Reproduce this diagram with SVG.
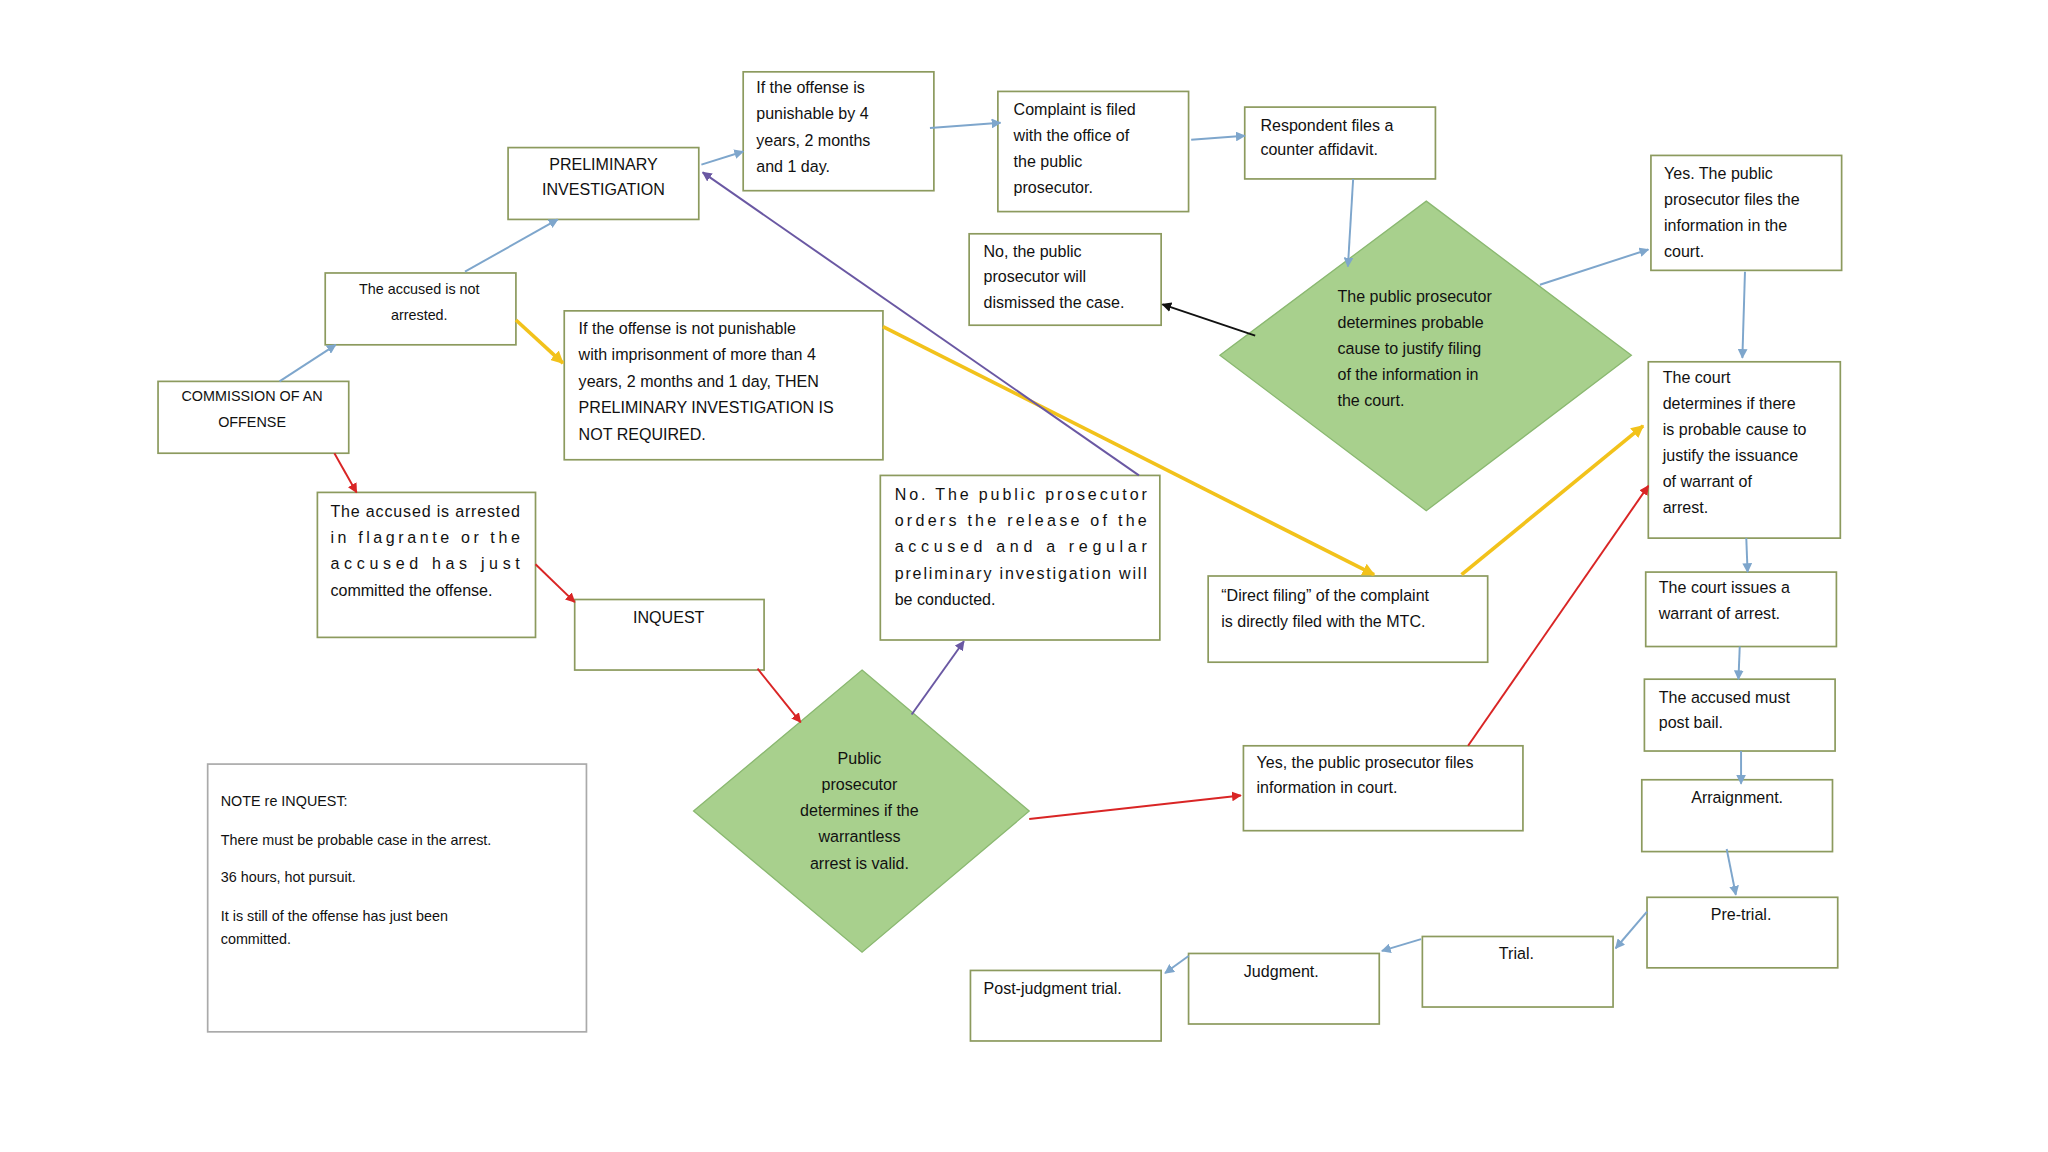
<svg xmlns="http://www.w3.org/2000/svg" width="2048" height="1152" viewBox="0 0 2048 1152">
<style>
.b{fill:#fff;stroke:#8c9a5e;stroke-width:1.3}
.d{fill:#a8d08d;stroke:#8ab870;stroke-width:1}
text{font-family:"Liberation Sans",Arial,sans-serif;font-size:12.3px;fill:#111}
.s{font-size:11px}
.c{text-anchor:middle}
.bl{stroke:#7ea6cc;stroke-width:1.5;fill:none;marker-end:url(#mb)}
.y{stroke:#f2c21b;stroke-width:2.8;fill:none;marker-end:url(#my)}
.r{stroke:#d92525;stroke-width:1.5;fill:none;marker-end:url(#mr)}
.p{stroke:#6a58a3;stroke-width:1.5;fill:none;marker-end:url(#mp)}
.k{stroke:#111;stroke-width:1.5;fill:none;marker-end:url(#mk)}
</style>
<defs>
<marker id="mb" viewBox="0 0 10 10" refX="9" refY="5" markerWidth="5" markerHeight="5" orient="auto"><path d="M0,0L10,5L0,10z" fill="#7ea6cc"/></marker>
<marker id="my" viewBox="0 0 10 10" refX="9" refY="5" markerWidth="3.5" markerHeight="3.5" orient="auto"><path d="M0,0L10,5L0,10z" fill="#f2c21b"/></marker>
<marker id="mr" viewBox="0 0 10 10" refX="9" refY="5" markerWidth="5" markerHeight="5" orient="auto"><path d="M0,0L10,5L0,10z" fill="#d92525"/></marker>
<marker id="mp" viewBox="0 0 10 10" refX="9" refY="5" markerWidth="5" markerHeight="5" orient="auto"><path d="M0,0L10,5L0,10z" fill="#6a58a3"/></marker>
<marker id="mk" viewBox="0 0 10 10" refX="9" refY="5" markerWidth="5" markerHeight="5" orient="auto"><path d="M0,0L10,5L0,10z" fill="#111"/></marker>
</defs>
<rect width="2048" height="1152" fill="#fff"/>
<g transform="scale(1.30612)">
<g id="commission"><rect class="b" x="121" y="292" width="146" height="55"/><text class="c s" x="193" y="307">COMMISSION OF AN</text><text class="c s" x="193" y="327">OFFENSE</text></g>
<g id="notarrested"><rect class="b" x="249" y="209" width="146" height="55"/><text class="c s" x="321" y="225">The accused is not</text><text class="c s" x="321" y="245">arrested.</text></g>
<g id="prelim"><rect class="b" x="389" y="113" width="146" height="55"/><text class="c" x="462" y="130">PRELIMINARY</text><text class="c" x="462" y="149">INVESTIGATION</text></g>
<g id="punishable"><rect class="b" x="569" y="55" width="146" height="91"/><text x="579" y="71">If the offense is</text><text x="579" y="91">punishable by 4</text><text x="579" y="112">years, 2 months</text><text x="579" y="132">and 1 day.</text></g>
<g id="complaint"><rect class="b" x="764" y="70" width="146" height="92"/><text x="776" y="88">Complaint is filed</text><text x="776" y="108">with the office of</text><text x="776" y="128">the public</text><text x="776" y="148">prosecutor.</text></g>
<g id="respondent"><rect class="b" x="953" y="82" width="146" height="55"/><text x="965" y="100">Respondent files a</text><text x="965" y="119">counter affidavit.</text></g>
<g id="yesfiles"><rect class="b" x="1264" y="119" width="146" height="88"/><text x="1274" y="137">Yes. The public</text><text x="1274" y="157">prosecutor files the</text><text x="1274" y="177">information in the</text><text x="1274" y="197">court.</text></g>
<g id="dismiss"><rect class="b" x="742" y="179" width="147" height="70"/><text x="753" y="197">No, the public</text><text x="753" y="216">prosecutor will</text><text x="753" y="236">dismissed the case.</text></g>
<g id="diamond1"><polygon class="d" points="1092,154 1249,272 1092,391 934,272"/><text x="1024" y="231">The public prosecutor</text><text x="1024" y="251">determines probable</text><text x="1024" y="271">cause to justify filing</text><text x="1024" y="291">of the information in</text><text x="1024" y="311">the court.</text></g>
<g id="notpunishable"><rect class="b" x="432" y="238" width="244" height="114"/><text x="443" y="256">If the offense is not punishable</text><text x="443" y="276">with imprisonment of more than 4</text><text x="443" y="296">years, 2 months and 1 day, THEN</text><text x="443" y="316">PRELIMINARY INVESTIGATION IS</text><text x="443" y="337">NOT REQUIRED.</text></g>
<g id="courtdetermines"><rect class="b" x="1262" y="277" width="147" height="135"/><text x="1273" y="293">The court</text><text x="1273" y="313">determines if there</text><text x="1273" y="333">is probable cause to</text><text x="1273" y="353">justify the issuance</text><text x="1273" y="373">of warrant of</text><text x="1273" y="393">arrest.</text></g>
<g id="arrested"><rect class="b" x="243" y="377" width="167" height="111"/><text x="253" y="396" textLength="145" lengthAdjust="spacing">The accused is arrested</text><text x="253" y="416" textLength="145" lengthAdjust="spacing">in flagrante or the</text><text x="253" y="436" textLength="145" lengthAdjust="spacing">accused has just</text><text x="253" y="456">committed the offense.</text></g>
<g id="inquest"><rect class="b" x="440" y="459" width="145" height="54"/><text class="c" x="512" y="477">INQUEST</text></g>
<g id="release"><rect class="b" x="674" y="364" width="214" height="126"/><text x="685" y="383" textLength="193" lengthAdjust="spacing">No. The public prosecutor</text><text x="685" y="403" textLength="193" lengthAdjust="spacing">orders the release of the</text><text x="685" y="423" textLength="193" lengthAdjust="spacing">accused and a regular</text><text x="685" y="443" textLength="193" lengthAdjust="spacing">preliminary investigation will</text><text x="685" y="463">be conducted.</text></g>
<g id="directfiling"><rect class="b" x="925" y="441" width="214" height="66"/><text x="935" y="460">“Direct filing” of the complaint</text><text x="935" y="480">is directly filed with the MTC.</text></g>
<g id="warrant"><rect class="b" x="1260" y="438" width="146" height="57"/><text x="1270" y="454">The court issues a</text><text x="1270" y="474">warrant of arrest.</text></g>
<g id="bail"><rect class="b" x="1259" y="520" width="146" height="55"/><text x="1270" y="538">The accused must</text><text x="1270" y="557">post bail.</text></g>
<g id="arraignment"><rect class="b" x="1257" y="597" width="146" height="55"/><text class="c" x="1330" y="615">Arraignment.</text></g>
<g id="pretrial"><rect class="b" x="1261" y="687" width="146" height="54"/><text class="c" x="1333" y="704">Pre-trial.</text></g>
<g id="trial"><rect class="b" x="1089" y="717" width="146" height="54"/><text class="c" x="1161" y="734">Trial.</text></g>
<g id="judgment"><rect class="b" x="910" y="730" width="146" height="54"/><text class="c" x="981" y="748">Judgment.</text></g>
<g id="postjudgment"><rect class="b" x="743" y="743" width="146" height="54"/><text x="753" y="761">Post-judgment trial.</text></g>
<g id="yesinfo"><rect class="b" x="952" y="571" width="214" height="65"/><text x="962" y="588">Yes, the public prosecutor files</text><text x="962" y="607">information in court.</text></g>
<g id="diamond2"><polygon class="d" points="660,513 788,621 660,729 531,621"/><text class="c" x="658" y="585">Public</text><text class="c" x="658" y="605">prosecutor</text><text class="c" x="658" y="625">determines if the</text><text class="c" x="658" y="645">warrantless</text><text class="c" x="658" y="665">arrest is valid.</text></g>
<g id="note"><rect x="159" y="585" width="290" height="205" fill="#fff" stroke="#aaa" stroke-width="1.3"/><text class="s" x="169" y="617">NOTE re INQUEST:</text><text class="s" x="169" y="647">There must be probable case in the arrest.</text><text class="s" x="169" y="675">36 hours, hot pursuit.</text><text class="s" x="169" y="705">It is still of the offense has just been</text><text class="s" x="169" y="723">committed.</text></g>
<g id="connectors">
<line class="bl" x1="214" y1="292" x2="257" y2="264"/>
<line class="bl" x1="356" y1="208" x2="427" y2="168"/>
<line class="bl" x1="537" y1="126" x2="569" y2="116"/>
<line class="bl" x1="712" y1="98" x2="766" y2="94"/>
<line class="bl" x1="912" y1="107" x2="953" y2="104"/>
<line class="bl" x1="1036" y1="137" x2="1032" y2="204"/>
<line class="k" x1="961" y1="257" x2="890" y2="233"/>
<line class="bl" x1="1179" y1="218" x2="1262" y2="191"/>
<line class="bl" x1="1336" y1="208" x2="1334" y2="274"/>
<line class="bl" x1="1337" y1="412" x2="1338" y2="438"/>
<line class="bl" x1="1332" y1="495" x2="1331" y2="520"/>
<line class="bl" x1="1333" y1="575" x2="1333" y2="600"/>
<line class="bl" x1="1322" y1="650" x2="1329" y2="685"/>
<line class="bl" x1="1261" y1="698" x2="1237" y2="726"/>
<line class="bl" x1="1088" y1="719" x2="1058" y2="728"/>
<line class="bl" x1="910" y1="732" x2="892" y2="745"/>
<line class="y" x1="395" y1="245" x2="431" y2="278"/>
<line class="y" x1="676" y1="250" x2="1052" y2="440"/>
<line class="y" x1="1119" y1="440" x2="1258" y2="326"/>
<line class="p" x1="872" y1="364" x2="538" y2="132"/>
<line class="p" x1="698" y1="547" x2="738" y2="491"/>
<line class="r" x1="256" y1="347" x2="273" y2="377"/>
<line class="r" x1="410" y1="432" x2="440" y2="461"/>
<line class="r" x1="580" y1="512" x2="613" y2="553"/>
<line class="r" x1="788" y1="627" x2="950" y2="609"/>
<line class="r" x1="1124" y1="571" x2="1262" y2="372"/>
</g>
</g>
</svg>
